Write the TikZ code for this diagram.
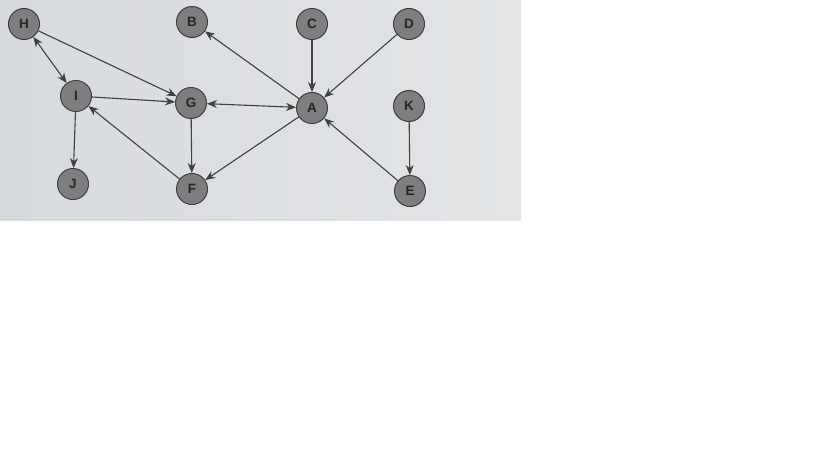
\documentclass[tikz,border=0pt]{standalone}
\usepackage{fontspec}
\setmainfont{Liberation Sans}
\usetikzlibrary{arrows.meta}
\definecolor{photobg}{RGB}{216,219,222}
\definecolor{photobgr}{RGB}{226,228,230}
\definecolor{nodefill}{RGB}{126,126,128}
\definecolor{edgecol}{RGB}{64,64,66}
\tikzset{
  vert/.style={circle, draw=edgecol, line width=1pt, fill=nodefill, minimum size=31pt, inner sep=0pt, font=\fontsize{13.5}{13.5}\selectfont\bfseries, text=black!85},
  edge/.style={draw=edgecol, line width=1.1pt, -{Stealth[length=10pt,width=8pt]}},
  dedge/.style={draw=edgecol, line width=1.1pt, {Stealth[length=10pt,width=8pt]}-{Stealth[length=10pt,width=8pt]}}
}
\begin{document}
\begin{tikzpicture}[x=1pt,y=-1pt]
\useasboundingbox (0,0) rectangle (819,460);
\shade[left color=photobg, right color=photobgr] (0,0) rectangle (521,220);
\node[vert] (H) at (24,24) {H};
\node[vert] (B) at (192,22) {B};
\node[vert] (C) at (312,24) {C};
\node[vert] (D) at (409,24) {D};
\node[vert] (I) at (76,96) {I};
\node[vert] (G) at (191,103) {G};
\node[vert] (A) at (312,108) {A};
\node[vert] (K) at (409,106) {K};
\node[vert] (J) at (73,184) {J};
\node[vert] (F) at (192,189) {F};
\node[vert] (E) at (410,191) {E};
\draw[dedge] (H) -- (I);
\draw[edge] (H) -- (G);
\draw[edge] (I) -- (G);
\draw[edge] (I) -- (J);
\draw[edge] (G) -- (F);
\draw[edge] (F) -- (I);
\draw[edge] (A) -- (B);
\draw[edge] (C) -- (A);
\draw[edge] (D) -- (A);
\draw[dedge] (G) -- (A);
\draw[edge] (A) -- (F);
\draw[edge] (E) -- (A);
\draw[edge] (K) -- (E);
\end{tikzpicture}
\end{document}
